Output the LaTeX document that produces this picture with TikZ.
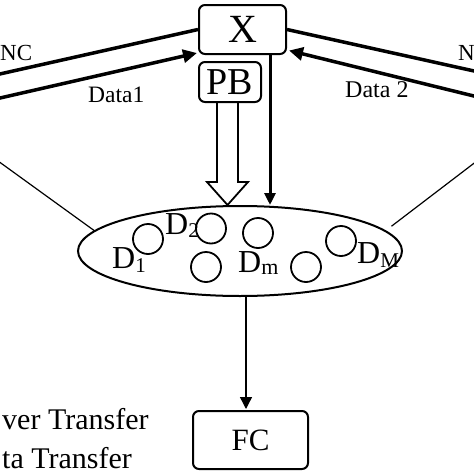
\documentclass[tikz,border=0pt]{standalone}
\usepackage{fontspec}
\setmainfont{Liberation Serif}
\usetikzlibrary{arrows.meta,shapes.geometric,calc}
\begin{document}
\begin{tikzpicture}[x=1pt,y=-1pt,
  box/.style={draw,line width=2pt,rounded corners=6pt,inner sep=0pt},
  dev/.style={draw,circle,line width=1.8pt,minimum size=30pt,inner sep=0pt},
  lab/.style={anchor=base west,inner sep=0pt,font=\fontsize{32}{32}\selectfont},
  txt/.style={anchor=base west,inner sep=0pt},
  bigline/.style={line width=3.5pt},
  bigarrow/.style={line width=3.5pt,-{Triangle[length=14pt,width=13pt]}},
  thinline/.style={line width=1.2pt}]
\clip (0,0) rectangle (474,474);
% boxes
\node[box,minimum width=87pt,minimum height=49pt,font=\fontsize{40}{40}\selectfont] (X) at (242.5,29.5) {X};
\node[box,minimum width=62pt,minimum height=40pt,font=\fontsize{38}{38}\selectfont] (PB) at (230,82) {PB};
\node[box,minimum width=115pt,minimum height=58pt,font=\fontsize{31}{31}\selectfont] (FC) at (250.5,440) {FC};
% ellipse with devices
\node[draw,ellipse,line width=2pt,minimum width=324pt,minimum height=90pt,inner sep=0pt] (E) at (240,251) {};
\node[dev] (c1) at (148,239) {};
\node[dev] (c2) at (211,228.5) {};
\node[dev] (c3) at (258,233) {};
\node[dev] (c4) at (206,267) {};
\node[dev] (c5) at (306,267) {};
\node[dev] (c6) at (341,241) {};
\node[lab] (d1) at (112,268) {D\raisebox{-4pt}{\fontsize{21}{21}\selectfont 1}};
\node[lab] (d2) at (165,234) {D\raisebox{-3pt}{\fontsize{21}{21}\selectfont 2}};
\node[lab] (dm) at (238,272) {D\raisebox{-2pt}{\fontsize{22}{22}\selectfont m}};
\node[lab] (dM) at (357,263) {D\raisebox{-4pt}{\fontsize{21}{21}\selectfont M}};
% left side links
\coordinate (l1) at (-10,76.2);
\coordinate (l2) at (-10,100.3);
\draw[bigline] (l1) -- (X.west);
\draw[bigarrow] (l2) -- ($(X.south west)+(-1,-2)$);
% right side links
\coordinate (r1) at (484,73.2);
\coordinate (r2) at (484,98.5);
\draw[bigline] (r1) -- (X.east);
\draw[bigarrow] (r2) -- ($(X.south east)+(2,-4.5)$);
% thin diagonal lines
\coordinate (dl) at (-10,155.2);
\coordinate (dr) at (484,155.6);
\draw[thinline] (dl) -- (E.172);
\draw[thinline,shorten >=7pt] (dr) -- (E.8);
% hollow power arrow from PB
\draw[line width=1.8pt,line join=miter] ($(PB.south)+(-13,0)$) -- ++(0,79) -- ++(-10,0) -- ++(20.5,23) -- ++(20.5,-23) -- ++(-10,0) -- ++(0,-79);
% data arrow from X
\coordinate (xr) at (270,205);
\draw[line width=3pt,-{Triangle[length=12pt,width=11pt]}] (xr |- X.south) -- (xr);
% arrow to FC
\coordinate (fa) at (246,409);
\draw[line width=1.4pt,-{Triangle[length=12pt,width=12pt]}] (fa |- E.south) -- (fa);
% texts
\node[txt,font=\fontsize{23}{23}\selectfont] (nc) at (0,60) {NC};
\node[txt,font=\fontsize{23}{23}\selectfont] (nr) at (458,60) {N};
\node[txt,font=\fontsize{23.5}{23.5}\selectfont] (da1) at (88,102) {Data1};
\node[txt,font=\fontsize{24}{24}\selectfont] (da2) at (345,97) {Data 2};
\node[txt,font=\fontsize{30}{30}\selectfont] (pt) at (2,429) {ver Transfer};
\node[txt,font=\fontsize{30}{30}\selectfont] (dt) at (2,468) {ta Transfer};
\end{tikzpicture}
\end{document}
